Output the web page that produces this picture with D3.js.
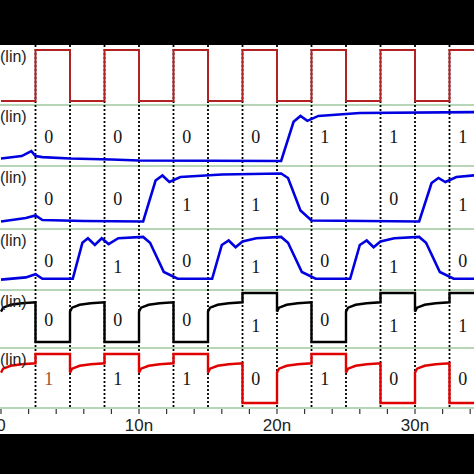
<!DOCTYPE html>
<html><head><meta charset="utf-8">
<script src="https://cdn.jsdelivr.net/npm/d3@7"></script>
<style>body{margin:0;background:#000}svg{display:block}.bit{font-family:'Liberation Serif','Times New Roman',serif}</style>
</head><body>
<script>
// bit labels per clock-high phase (2.5n, 7.5n, ... )
var bitsRow2 = [0,0,0,0,1,1,1];
var bitsRow3 = [0,0,1,1,0,0,1];
var bitsRow4 = [0,1,0,1,0,1,0];
var bitsBlack = [0,0,0,1,0,1,1];
var bitsRed = [1,1,1,0,1,0,0];

var clockWave = [[0,0],[2.5,0],[2.5,1],[5,1],[5,0],[7.5,0],[7.5,1],[10,1],[10,0],[12.5,0],[12.5,1],[15,1],[15,0],[17.5,0],[17.5,1],[20,1],[20,0],[22.5,0],[22.5,1],[25,1],[25,0],[27.5,0],[27.5,1],[30,1],[30,0],[32.5,0],[32.5,1],[35,1]];
var row2Wave = [[0,0.05],[1.5,0.1],[2.2,0.2],[2.5,0.1],[3,0.08],[5,0.05],[8,0.03],[10,0.01],[20.3,0],[21.2,0.8],[21.7,0.92],[22.2,0.82],[23,0.92],[26,0.98],[35,1]];
var row3Wave = [[0,0.03],[1.8,0.1],[2.5,0.15],[3,0.06],[6,0.04],[10.3,0.03],[11.2,0.85],[11.7,0.95],[12.2,0.82],[13,0.92],[16,0.97],[20.3,0.99],[20.8,0.9],[21.7,0.25],[22.5,0.05],[30.3,0.03],[31.2,0.8],[31.7,0.9],[32.2,0.82],[33,0.92],[35,0.97]];
var row4Wave = [[0,0.03],[1.8,0.08],[2.5,0.15],[3,0.05],[5.2,0.05],[5.9,0.85],[6.3,0.95],[6.8,0.8],[7.3,0.95],[7.8,0.82],[8.5,0.95],[10.3,0.98],[10.8,0.85],[11.8,0.2],[12.8,0.05],[15.3,0.05],[16,0.8],[16.5,0.9],[17,0.75],[17.5,0.88],[18.5,0.95],[20.3,0.98],[20.8,0.85],[21.8,0.2],[22.8,0.05],[25.3,0.05],[26,0.8],[26.5,0.9],[27,0.75],[27.5,0.88],[28.5,0.95],[30.3,0.98],[30.8,0.85],[31.8,0.2],[32.8,0.05],[35,0.05]];
var recovery = [[0,0.62],[0.15,0.7],[0.7,0.76],[1.5,0.79],[2.5,0.81]]; // shape after each falling clock edge
var xTicks = [0,10,20,30];
var xMinor = d3.range(0,36,2);

var W = 474, H = 474;
var svg = d3.select("body").append("svg").attr("width",W).attr("height",H);
svg.append("rect").attr("x",0).attr("y",45).attr("width",W).attr("height",389).attr("fill","#fff");

var x = d3.scaleLinear().domain([0,10]).range([1,139]);

var panels = [
  {top:45, bot:105, hi:50, lo:101},
  {top:105, bot:166, hi:112, lo:161},
  {top:166, bot:229, hi:173, lo:223},
  {top:229, bot:290, hi:236, lo:281},
  {top:290, bot:348, hi:293, lo:342},
  {top:348, bot:408, hi:354, lo:403}
];

function buildLatch(bits) {
  var pts = [];
  bits.forEach(function(b, k) {
    var t0 = 5*k;
    recovery.forEach(function(p){ pts.push([t0+p[0], p[1]]); });
    pts.push([t0+2.5, b]);
    pts.push([t0+5, b]);
  });
  return pts;
}

var waves = [
  {d:clockWave, c:"#b22222", w:2, bits:null},
  {d:row2Wave, c:"#0000e0", w:2.6, bits:bitsRow2},
  {d:row3Wave, c:"#0000e0", w:2.6, bits:bitsRow3},
  {d:row4Wave, c:"#0000e0", w:2.6, bits:bitsRow4},
  {d:buildLatch(bitsBlack), c:"#000", w:2.4, bits:bitsBlack},
  {d:buildLatch(bitsRed), c:"#e00000", w:2.4, bits:bitsRed}
];

panels.forEach(function(p) {
  svg.append("line").attr("x1",0).attr("x2",W).attr("y1",p.bot).attr("y2",p.bot)
    .attr("stroke","#9fc79f").attr("stroke-width",1.5);
});

// dotted clock-edge lines
d3.range(2.5,35,2.5).forEach(function(t) {
  svg.append("line").attr("x1",x(t)).attr("x2",x(t)).attr("y1",45).attr("y2",408)
    .attr("stroke","#000").attr("stroke-width",1.8).attr("stroke-dasharray","2,2");
});

waves.forEach(function(wv, i) {
  var p = panels[i];
  var y = d3.scaleLinear().domain([0,1]).range([p.lo,p.hi]);
  svg.append("path").datum(wv.d)
    .attr("d", d3.line().x(function(d){return x(d[0]);}).y(function(d){return y(d[1]);}))
    .attr("fill","none").attr("stroke",wv.c).attr("stroke-width",wv.w);
  svg.append("text").attr("x",0).attr("y",p.top+17).text("(lin)")
    .attr("font-family","Liberation Sans, Arial").attr("font-size",16).attr("fill","#222");
  if (wv.bits) {
    wv.bits.forEach(function(b,k) {
      var ty = (p.top+p.bot)/2 + 7 + (b==1 && i>=2 && i<=4 ? 6 : 0);
      svg.append("text").attr("class","bit").attr("x",x(5*k+3.75)-4).attr("y",ty).attr("text-anchor","middle")
        .attr("font-size",18)
        .attr("fill",(i==5 && k==0) ? "#a0522d" : "#111").text(b);
    });
  }
});

xMinor.forEach(function(t) {
  svg.append("line").attr("x1",x(t)).attr("x2",x(t)).attr("y1",409).attr("y2",414)
    .attr("stroke","#333").attr("stroke-width",1.2);
});
xTicks.forEach(function(t) {
  svg.append("text").attr("x",x(t)).attr("y",431).attr("text-anchor","middle")
    .attr("font-family","Liberation Sans, Arial").attr("font-size",17).attr("fill","#222")
    .text(t==0 ? "0" : t+"n");
});
</script>
</body></html>
